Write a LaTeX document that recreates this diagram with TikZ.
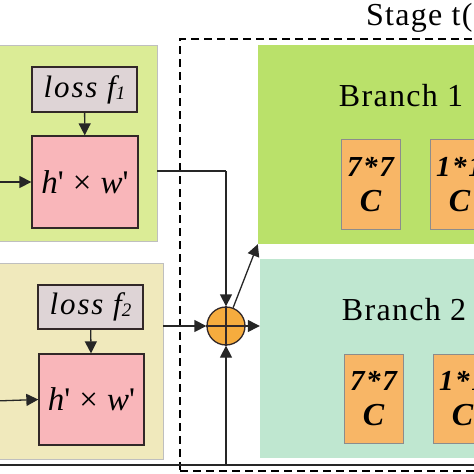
\documentclass[tikz,border=0pt]{standalone}
\usepackage{fontspec}
\setmainfont{Liberation Serif}
\usetikzlibrary{arrows.meta}
\definecolor{gone}{RGB}{219,236,150}
\definecolor{gtwo}{RGB}{240,233,188}
\definecolor{lossc}{RGB}{222,212,214}
\definecolor{pinkc}{RGB}{249,182,186}
\definecolor{bone}{RGB}{186,225,106}
\definecolor{btwo}{RGB}{191,231,208}
\definecolor{kern}{RGB}{248,182,102}
\definecolor{circc}{RGB}{246,172,62}
\definecolor{edge}{RGB}{50,40,40}
\tikzset{
  box/.style={draw=edge, line width=1.3pt, inner sep=0pt, rectangle},
  outerbox/.style={draw=black!25, line width=0.8pt, inner sep=0pt, rectangle},
  arr/.style={line width=1.3pt, draw=black!85, -{Triangle[length=12pt,width=12pt]}},
  ln/.style={line width=1.3pt, draw=black!85},
  kbox/.style={draw=black!45, line width=0.8pt, fill=kern, inner sep=0pt, minimum width=59pt, minimum height=90pt, align=center, font=\fontsize{29}{35}\selectfont\bfseries\itshape},
  lbl/.style={font=\fontsize{31}{31}\selectfont\itshape},
  hwl/.style={font=\fontsize{33}{33}\selectfont\itshape},
  big/.style={font=\fontsize{32}{32}\selectfont, inner sep=0pt},
}
\newcommand{\kerntext}[1]{\addfontfeature{LetterSpace=6}#1\\{\fontsize{32}{35}\selectfont C}}
\newcommand{\hw}{\addfontfeature{LetterSpace=4}h{\upshape\textquotesingle}\;{\upshape×}\;w{\upshape\textquotesingle}}
\newcommand{\lossf}[1]{\addfontfeature{LetterSpace=6}loss f{\fontsize{19}{19}\selectfont\raisebox{-2pt}{#1}}}
\begin{document}
\begin{tikzpicture}[x=1pt,y=-1pt]
\useasboundingbox (0,0) rectangle (474,474);
\clip (0,0) rectangle (474,474);
% left blocks
\node[outerbox, fill=gone, minimum width=177pt, minimum height=196pt] (g1) at (68.5,143) {};
\node[box, fill=lossc, minimum width=105pt, minimum height=45pt, lbl] (l1) at (84.5,89.5) {\lossf{1}};
\node[box, fill=pinkc, minimum width=106pt, minimum height=92pt, hwl] (p1) at (85,182) {\hw};
\node[outerbox, fill=gtwo, minimum width=183pt, minimum height=196pt] (g2) at (71.5,361) {};
\node[box, fill=lossc, minimum width=105pt, minimum height=44pt, lbl] (l2) at (90.5,307) {\lossf{2}};
\node[box, fill=pinkc, minimum width=105pt, minimum height=91pt, hwl] (p2) at (91.5,399.5) {\hw};
% stage dashed box
\node[draw=black, line width=1.5pt, dash pattern=on 8pt off 5pt, inner sep=0pt, minimum width=320pt, minimum height=432pt] (stage) at (340,255) {};
\node[anchor=base west, big] (stl) at (366,25) {\addfontfeature{LetterSpace=4}Stage t(};
% branches
\node[rectangle, fill=bone, inner sep=0pt, minimum width=242pt, minimum height=199pt] (b1) at (379,144.5) {};
\node[rectangle, fill=btwo, inner sep=0pt, minimum width=240pt, minimum height=199pt] (b2) at (380,358.5) {};
\node[anchor=base, big] (b1t) at (401,106) {\addfontfeature{LetterSpace=4}Branch 1};
\node[anchor=base, big] (b2t) at (404,320) {\addfontfeature{LetterSpace=4}Branch 2};
\node[kbox] (k1a) at (370.5,184) {\kerntext{7*7}};
\node[kbox] (k1b) at (459.5,184) {\kerntext{1*1}};
\node[kbox, minimum height=89pt] (k2a) at (373.5,398.5) {\kerntext{7*7}};
\node[kbox, minimum height=89pt] (k2b) at (462.5,398.5) {\kerntext{1*1}};
% sum node
\node[circle, draw=edge, line width=1.3pt, fill=circc, minimum size=38pt, inner sep=0pt] (c) at (226,326) {};
\draw[line width=1.1pt, draw=edge] (c.north) -- (c.south) (c.west) -- (c.east);
% coordinates
\coordinate (in1) at (-5,182);
\coordinate (in2) at (-5,401);
\coordinate (o1) at (157,171);
\coordinate (t1) at (226,171);
\coordinate (o2) at (163,326);
\coordinate (bl) at (-5,465);
\coordinate (br) at (480,465);
\coordinate (bm) at (226,465);
% connectors
\draw[arr] (l1) -- (p1);
\draw[arr] (l2) -- (p2);
\draw[arr] (in1) -- (p1.west);
\draw[arr] (in2) -- (p2.west);
\draw[ln] (o1) -- (t1);
\draw[arr] (t1) -- (c.north);
\draw[arr] (o2) -- (c.west);
\draw[arr] (c) -- (b1.south west);
\draw[arr] (c.east) -- (b2.west |- c);
\draw[ln] (bl) -- (br);
\draw[arr] (bm) -- (c.south);
\end{tikzpicture}
\end{document}
